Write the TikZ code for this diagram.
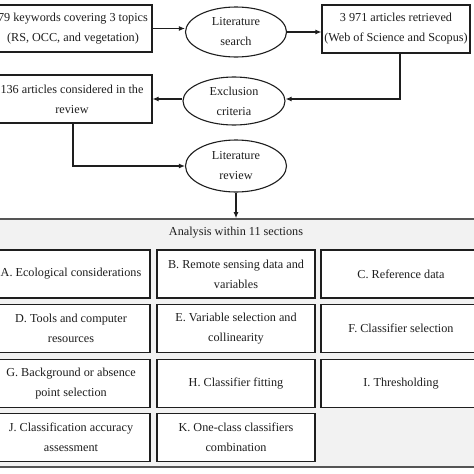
\documentclass[tikz,border=0pt]{standalone}
\usepackage{fontspec}
\setmainfont{Liberation Serif}
\usetikzlibrary{shapes.geometric,arrows.meta}
\definecolor{ink}{HTML}{1E1E1E}
\definecolor{panel}{HTML}{F2F2F2}
\definecolor{frame}{HTML}{555555}
\tikzset{
  txt/.style={font={\fontsize{12.2}{20}\selectfont}, text=ink, align=center, inner sep=0pt},
  box/.style={txt, draw=ink, line width=1.1pt, fill=white, rectangle},
  oval/.style={txt, draw=ink, line width=1.1pt, fill=white, ellipse, minimum width=101pt, minimum height=50pt},
  conn/.style={draw=ink, line width=1.1pt, -{Latex[length=6pt,width=5pt]}},
  cell/.style={box, minimum height=48pt}
}
\begin{document}
\begin{tikzpicture}[x=1pt,y=-1pt]
\useasboundingbox[fill=white] (0,0) rectangle (474,474);
% top flow
\node[box, minimum width=158pt, minimum height=47pt] (kw) at (73,28.5) {79 keywords covering 3 topics\\(RS, OCC, and vegetation)};
\node[oval] (search) at (236,32) {Literature\\search};
\node[box, minimum width=148pt, minimum height=48pt] (ret) at (396,29) {3 971 articles retrieved\\(Web of Science and Scopus)};
\node[box, minimum width=160pt, minimum height=48pt] (cons) at (72,99) {136 articles considered in the\\review};
\node[oval, minimum width=102pt, minimum height=48pt] (excl) at (234,101) {Exclusion\\criteria};
\node[oval, minimum height=52pt] (rev) at (236,166) {Literature\\review};
% panel
\node[draw=frame, line width=1.6pt, fill=panel, minimum width=480pt, minimum height=248pt, inner sep=0pt] (panel) at (237,343) {};
\node[txt] (title) at (236,233) {Analysis within 11 sections};
% cells
\node[cell, minimum width=158pt] (A) at (71,274) {A. Ecological considerations};
\node[cell, minimum width=158pt] (B) at (236,274) {B. Remote sensing data and\\variables};
\node[cell, minimum width=160pt] (C) at (401,274) {C. Reference data};
\node[cell, minimum width=158pt] (D) at (71,328.5) {D. Tools and computer\\resources};
\node[cell, minimum width=158pt] (E) at (236,328.5) {E. Variable selection and\\collinearity};
\node[cell, minimum width=160pt] (F) at (401,328.5) {F. Classifier selection};
\node[cell, minimum width=158pt] (G) at (71,383.5) {G. Background or absence\\point selection};
\node[cell, minimum width=158pt] (H) at (236,383.5) {H. Classifier fitting};
\node[cell, minimum width=160pt] (I) at (401,383.5) {I. Thresholding};
\node[cell, minimum width=158pt] (J) at (71,437.5) {J. Classification accuracy\\assessment};
\node[cell, minimum width=158pt] (K) at (236,437.5) {K. One-class classifiers\\combination};
% connectors
\draw[conn] (kw.east) -- (search.west |- kw.east);
\draw[conn] (search.east) -- (ret.west |- search.east);
\coordinate (c1) at (400,99);
\draw[conn] (ret.south -| c1) -- (c1) -- (excl.east |- c1);
\draw[conn] (excl.west |- c1) -- (cons.east |- c1);
\coordinate (c2) at (73,166);
\draw[conn] (cons.south -| c2) -- (c2) -- (rev.west);
\draw[conn] (rev.south) -- (panel.north -| rev.south);
\end{tikzpicture}
\end{document}
